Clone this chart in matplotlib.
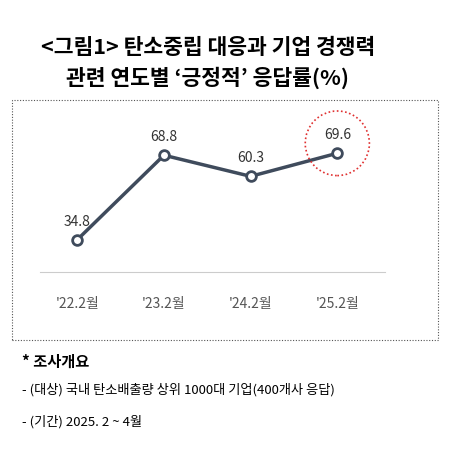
import matplotlib
matplotlib.use("Agg")
import matplotlib.pyplot as plt
from matplotlib.patches import Rectangle, Ellipse

plt.rcParams['font.family'] = ['Noto Sans CJK KR', 'DejaVu Sans']

categories = ["'22.2월", "'23.2월", "'24.2월", "'25.2월"]
values = [34.8, 68.8, 60.3, 69.6]

W, H = 455, 457
fig = plt.figure(figsize=(W/100, H/100), dpi=100)

def fx(x): return x / W
def fy(y): return 1 - y / H

fig.text(fx(208), fy(47), "<그림1> 탄소중립 대응과 기업 경쟁력", ha='center', va='center',
         fontsize=15.5, fontweight='bold')
fig.text(fx(208), fy(78), "관련 연도별 ‘긍정적’ 응답률(%)", ha='center', va='center',
         fontsize=15.5, fontweight='bold')

fig.patches.append(Rectangle((fx(12), fy(340)), fx(426), (340-100)/H, transform=fig.transFigure,
                             fill=False, ec='#555555', lw=0.8, ls=(0, (1, 1.5))))

ax = fig.add_axes([fx(40), fy(272), fx(345), (272-110)/H])
x = list(range(len(values)))
ax.plot(x, values, color='#3f4b5c', lw=2.5, marker='o', ms=7, mfc='white', mec='#3f4b5c', mew=2, zorder=3)
for xi, v in zip(x, values):
    ax.text(xi, v + 4.5, f"{v}", ha='center', va='bottom', fontsize=10, color='#333333')
ax.set_xlim(-0.43, 3.55)
ax.set_ylim(21.8, 87)
ax.add_patch(Ellipse((3, 73.6), 0.74, 26, fill=False, ec='#e03030', lw=1.2, ls=(0, (1, 1.5)), zorder=4))
for s in ['top', 'right', 'left']:
    ax.spines[s].set_visible(False)
ax.spines['bottom'].set_color('#cccccc')
ax.set_yticks([])
ax.set_xticks(x)
ax.set_xticklabels(categories, fontsize=10, color='#555555')
ax.tick_params(axis='x', length=0, pad=18)
ax.patch.set_visible(False)

fig.text(fx(22), fy(362), "* 조사개요", ha='left', va='center', fontsize=11, fontweight='bold')
fig.text(fx(22), fy(390), "- (대상) 국내 탄소배출량 상위 1000대 기업(400개사 응답)", ha='left', va='center', fontsize=9.5)
fig.text(fx(22), fy(422), "- (기간) 2025. 2 ~ 4월", ha='left', va='center', fontsize=9.5)

fig.savefig("out.png", dpi=100)
